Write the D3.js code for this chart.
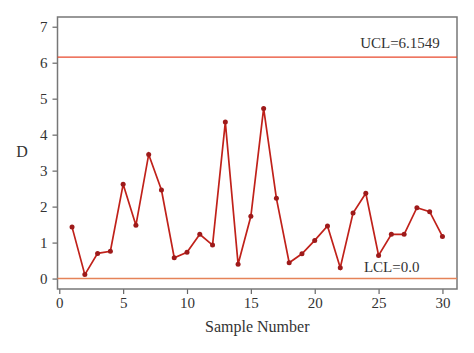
<!DOCTYPE html>
<html>
<head>
<meta charset="utf-8">
<script src="https://cdn.jsdelivr.net/npm/d3@7"></script>
<style>
  body { margin: 0; background: #fff; }
  text { font-family: "Liberation Serif", "DejaVu Serif", serif; fill: #333; }
</style>
</head>
<body>
<div id="chart"></div>
<script>
// sample D values
var samples = d3.range(1, 31);
var dValues = [1.43, 0.11, 0.70, 0.76, 2.62, 1.48, 3.45, 2.46, 0.58, 0.73,
               1.23, 0.93, 4.35, 0.40, 1.73, 4.73, 2.23, 0.44, 0.69, 1.06,
               1.46, 0.30, 1.82, 2.37, 0.64, 1.23, 1.23, 1.97, 1.86, 1.17];
var xTicks = [0, 5, 10, 15, 20, 25, 30];
var yTicks = [0, 1, 2, 3, 4, 5, 6, 7];
var ucl = 6.1549;
var lcl = 0.0;

var svgWidth = 474, svgHeight = 353;
var margin = { top: 17, right: 17, bottom: 64, left: 57.5 };
var width = svgWidth - margin.left - margin.right;
var height = svgHeight - margin.top - margin.bottom;

var svg = d3.select("#chart").append("svg")
  .attr("width", svgWidth)
  .attr("height", svgHeight);

var chartGroup = svg.append("g")
  .attr("transform", `translate(${margin.left}, ${margin.top})`);

var xScale = d3.scaleLinear().domain([-0.14, 31.14]).range([0, width]);
var yScale = d3.scaleLinear().domain([-0.29, 7.27]).range([height, 0]);

// axes
var bottomAxis = d3.axisBottom(xScale).tickValues(xTicks).tickSize(5).tickPadding(3);
var leftAxis = d3.axisLeft(yScale).tickValues(yTicks).tickSize(5).tickPadding(5);

var xg = chartGroup.append("g")
  .attr("transform", `translate(0, ${height})`)
  .call(bottomAxis);
var yg = chartGroup.append("g").call(leftAxis);

[xg, yg].forEach(function(g) {
  g.select(".domain").remove();
  g.selectAll(".tick line").attr("stroke", "#666").attr("stroke-width", 1.2);
  g.selectAll(".tick text").style("font-size", "15px").attr("fill", "#333");
});

// frame
chartGroup.append("rect")
  .attr("width", width)
  .attr("height", height)
  .attr("fill", "none")
  .attr("stroke", "#777")
  .attr("stroke-width", 1.5);

// control limits
chartGroup.append("line")
  .attr("x1", 0).attr("x2", width)
  .attr("y1", yScale(ucl)).attr("y2", yScale(ucl))
  .attr("stroke", "#e8492c").attr("stroke-width", 1.3);

chartGroup.append("line")
  .attr("x1", 0).attr("x2", width)
  .attr("y1", yScale(lcl)).attr("y2", yScale(lcl))
  .attr("stroke", "#e58358").attr("stroke-width", 1.5);

chartGroup.append("text")
  .attr("x", xScale(29.8))
  .attr("y", yScale(ucl) - 9)
  .attr("text-anchor", "end")
  .style("font-size", "15px")
  .text("UCL=" + ucl);

chartGroup.append("text")
  .attr("x", xScale(28.2))
  .attr("y", yScale(lcl) - 7)
  .attr("text-anchor", "end")
  .style("font-size", "15px")
  .text("LCL=" + lcl.toFixed(1));

// data line and points
var line = d3.line()
  .x((d, i) => xScale(samples[i]))
  .y(d => yScale(d));

chartGroup.append("path")
  .datum(dValues)
  .attr("d", line)
  .attr("fill", "none")
  .attr("stroke", "#c0211a")
  .attr("stroke-width", 1.7);

chartGroup.selectAll("circle")
  .data(dValues)
  .enter()
  .append("circle")
  .attr("cx", (d, i) => xScale(samples[i]))
  .attr("cy", d => yScale(d))
  .attr("r", 2.5)
  .attr("fill", "#9e1a1a");

// axis labels
svg.append("text")
  .attr("x", 22)
  .attr("y", margin.top + yScale(3.38))
  .attr("text-anchor", "middle")
  .style("font-size", "16px")
  .text("D");

svg.append("text")
  .attr("x", margin.left + xScale(15.5))
  .attr("y", 332)
  .attr("text-anchor", "middle")
  .style("font-size", "16px")
  .text("Sample Number");
</script>
</body>
</html>
